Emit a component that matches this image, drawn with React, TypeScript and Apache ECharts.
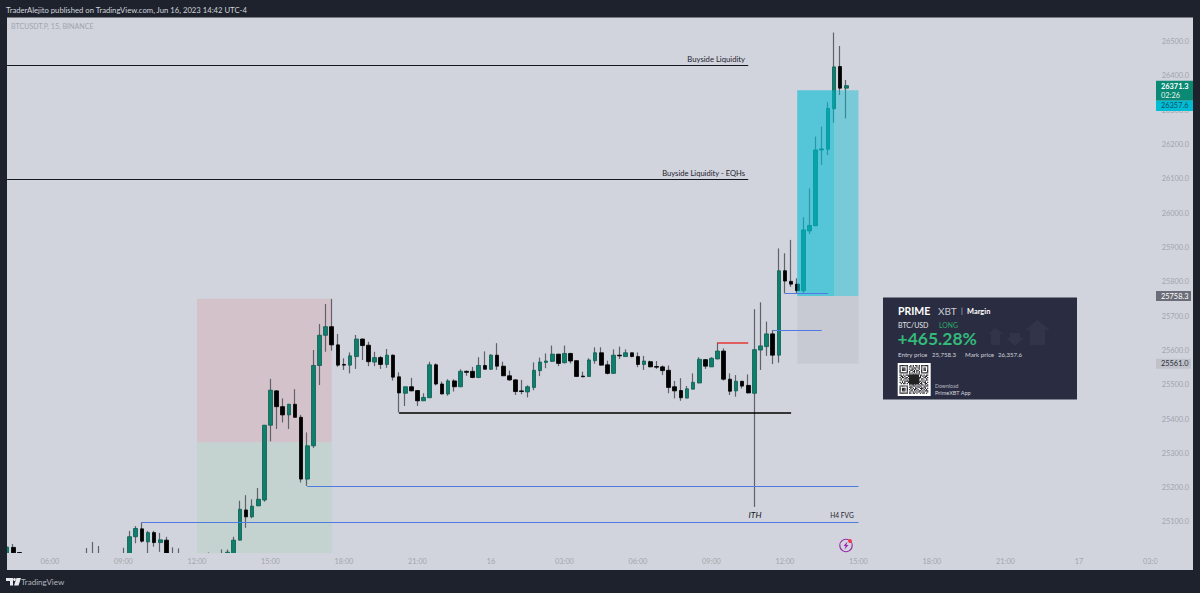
import React, { useEffect, useRef } from "react";
import * as echarts from "echarts";

const opens = [25004,25026,25011,25003,24996,24990,24985,24978,24982,24976,24970,24975,24980,24985,24990,24995,24992,24985,24982,24990,
25005,25057,25080,25042,25069,25040,25047,25005,25003,24998,24992,24988,24990,24994,24998,25000,25007,25008,25047,25135,
25115,25147,25164,25382,25482,25436,25412,25443,25405,25225,25322,25556,25644,25669,25616,25559,25557,25582,25633,25615,
25566,25579,25559,25586,25523,25475,25494,25483,25453,25462,25558,25502,25473,25511,25494,25539,25539,25521,25556,25545,
25586,25554,25526,25514,25482,25479,25492,25541,25565,25568,25589,25564,25591,25570,25525,25524,25570,25593,25558,25533,
25586,25582,25593,25582,25559,25567,25553,25552,25542,25494,25483,25461,25487,25505,25573,25552,25575,25598,25516,25482,
25510,25498,25475,25601,25611,25648,25586,25832,25801,25793,25774,25948,25963,26184,26186,26304,26427,26364];
const closes = [25027,25010,25009,24996,24990,24985,24978,24982,24976,24970,24975,24980,24985,24990,24995,24992,24985,24982,24990,25002,
25057,25081,25044,25069,25040,25048,25005,25003,24998,24992,24988,24990,24994,24998,25000,25005,25012,25047,25137,25115,
25146,25166,25382,25484,25436,25412,25443,25405,25225,25322,25556,25644,25669,25616,25557,25557,25584,25633,25614,25567,
25579,25559,25586,25522,25476,25494,25482,25453,25463,25558,25502,25473,25511,25494,25539,25536,25521,25556,25545,25586,
25554,25526,25514,25480,25480,25494,25542,25566,25569,25589,25562,25591,25569,25524,25523,25572,25593,25557,25533,25586,
25584,25593,25582,25559,25569,25552,25551,25541,25492,25482,25462,25488,25507,25574,25554,25577,25598,25516,25481,25510,
25496,25476,25602,25613,25648,25586,25832,25802,25793,25774,25951,25964,26184,26187,26305,26426,26364,26371.3];
const lows = [25000,25005,25000,24985,24982,24978,24970,24972,24968,24960,24965,24970,24975,24978,24984,24986,24978,24975,24978,24985,
25000,25038,25040,25005,25028,25013,25000,24995,24990,24985,24982,24984,24986,24990,24992,24998,25000,25000,25047,25083,
25111,25147,25159,25335,25371,25390,25371,25405,25215,25205,25316,25499,25596,25599,25552,25543,25533,25546,25572,25554,
25554,25546,25549,25512,25419,25438,25481,25438,25453,25462,25498,25472,25468,25480,25493,25526,25519,25519,25545,25543,
25543,25525,25511,25470,25472,25463,25484,25525,25548,25566,25554,25562,25562,25523,25522,25523,25561,25556,25530,25533,
25575,25582,25580,25551,25543,25551,25546,25528,25475,25460,25453,25460,25486,25504,25546,25552,25574,25512,25470,25465,
25489,25475,25144,25543,25584,25560,25564,25766,25785,25766,25766,25939,25963,26140,26169,26263,26344,26276];
const highs = [25030,25036,25012,25005,25000,24995,24990,24992,24986,24980,24984,24990,24996,25024,25042,25030,24998,24992,24996,25025,
25074,25088,25099,25074,25074,25068,25057,25026,25023,25002,24998,24996,25000,25011,25006,25020,25020,25057,25162,25178,
25166,25199,25382,25517,25484,25460,25444,25487,25412,25361,25601,25677,25735,25750,25648,25577,25594,25645,25635,25625,
25596,25584,25604,25588,25536,25494,25520,25483,25475,25567,25562,25509,25516,25516,25545,25541,25552,25580,25597,25589,
25621,25567,25541,25516,25514,25498,25565,25579,25591,25614,25590,25614,25593,25570,25538,25577,25609,25609,25570,25603,
25611,25603,25593,25594,25584,25570,25569,25556,25556,25511,25519,25496,25533,25580,25574,25580,25623,25606,25533,25528,
25510,25530,25720,25740,25684,25659,25897,25883,25922,25810,25988,26072,26223,26252,26323,26526,26487,26388];

const BAR_COUNT = 189;
const FIRST_QUARTER = 17; // 04:15, first bar of Jun 15
const categories: string[] = [];
for (let i = 0; i < BAR_COUNT; i++) {
  const q = FIRST_QUARTER + i;
  const day = 15 + Math.floor(q / 96);
  const h = Math.floor((q % 96) / 4);
  const m = (q % 4) * 15;
  categories.push(`${day} ${String(h).padStart(2, "0")}:${String(m).padStart(2, "0")}`);
}

const priceTicks = [25100,25200,25300,25400,25500,25600,25700,25800,25900,26000,26100,26200,26300,26400,26500];
const Y_MIN = 25009.6;
const Y_MAX = 26569.9;

// price levels and zones, [fromBar, toBar, price]
const blackLevels = [[0, 121, 26430], [0, 121, 26098]];
const supportLevel = [64, 128, 25419];
const redLevel = [116, 121, 25623];
const blueLevels = [[22, 139, 25098], [49, 139, 25205], [125, 133, 25659], [127, 134, 25766]];
const shortZone = [31, 53, 25750.5, 25332];
const longZone = [31, 53, 25332, Y_MIN];
const targetStrong = [129, 135, 26357.6, 25758.3];
const targetLight = [135, 139, 26357.6, 25758.3];
const stopZone = [129, 139, 25758.3, 25561];

const qrRows = [
  "111111100101011010111111",
  "100000101101001010100001",
  "101110100010110110101101",
  "101110101011010010101101",
  "101110100110101100101101",
  "100000101001101010100001",
  "111111101010101010111111",
  "000000001101010110000000",
  "110101110011111001101011",
  "011010011110000101010110",
  "101101101100000111001101",
  "010011011100000110110010",
  "110100100100000100101011",
  "001011111100000111010100",
  "101010010111111010101101",
  "010110101001010101100110",
  "000000001011010010110101",
  "111111100101101101001011",
  "100000101110010110101100",
  "101110100101011001110101",
  "101110101010110100101010",
  "101110100110101011010111",
  "100000101001010110101001",
  "111111101101101001011010",
];

const FONT = "Lato, 'Open Sans', sans-serif";
const GRID_LEFT = 4.04;
const BAR_W = 6.125;
const GRID_TOP = 17.5;
const GRID_BOTTOM = 553;
const BG = "#d1d4dc";
const FRAME = "#1e222d";
const AXIS_TEXT = "#a2a5ae";

const yOf = (p: number) => GRID_TOP + ((Y_MAX - p) / (Y_MAX - Y_MIN)) * (GRID_BOTTOM - GRID_TOP);

const txt = (x: number, y: number, text: string, fontSize: number, fill: string, extra: any = {}) => ({
  type: "text",
  x,
  y,
  z: 60,
  style: { text, fontSize, fill, fontFamily: FONT, textVerticalAlign: "middle", ...extra },
});
const box = (x: number, y: number, width: number, height: number, fill: string, z = 50) => ({
  type: "rect",
  z,
  shape: { x, y, width, height },
  style: { fill },
});
const poly = (points: number[][], fill: string, z = 55) => ({
  type: "polygon",
  z,
  shape: { points },
  style: { fill },
});

const zone = (z: number[], color: string) => [
  { xAxis: z[0], yAxis: z[2], itemStyle: { color, opacity: 1 } },
  { xAxis: z[1], yAxis: z[3] },
];
const level = (l: number[], color: string, width: number) => [
  { xAxis: l[0], yAxis: l[2], lineStyle: { color, width, type: "solid", opacity: 1 } },
  { xAxis: l[1], yAxis: l[2] },
];

function qrModules() {
  const out: any[] = [box(897.7, 363, 33, 33, "#ffffff", 55)];
  const m = 1.2;
  qrRows.forEach((row, r) => {
    [...row].forEach((c, k) => {
      if (c === "1") out.push(box(899.5 + k * m, 365 + r * m, m, m, "#1c1c22", 56));
    });
  });
  out.push(box(909, 374.5, 10, 10, "#222", 57));
  return out;
}

export default function App() {
  const ref = useRef<HTMLDivElement>(null);
  useEffect(() => {
    document.body.style.margin = "0";
    const chart = echarts.init(ref.current!, undefined, { renderer: "svg" });
    chart.setOption({
      animation: false,
      backgroundColor: FRAME,
      grid: {
        left: GRID_LEFT,
        top: GRID_TOP,
        width: BAR_W * BAR_COUNT,
        height: GRID_BOTTOM - GRID_TOP,
        containLabel: false,
      },
      tooltip: { show: false },
      xAxis: {
        type: "category",
        data: categories,
        boundaryGap: true,
        z: 10,
        axisLine: { show: false },
        axisTick: { show: false },
        splitLine: { show: false },
        axisLabel: {
          interval: (i: number) => i % 12 === 7,
          formatter: (v: string) => {
            const [d, t] = v.split(" ");
            return t === "00:00" ? d : t;
          },
          color: AXIS_TEXT,
          fontFamily: FONT,
          fontSize: 7.3,
          margin: 5,
          hideOverlap: false,
        },
      },
      yAxis: {
        type: "value",
        position: "right",
        min: Y_MIN,
        max: Y_MAX,
        axisLine: { show: false },
        axisTick: { show: false },
        splitLine: { show: false },
        axisLabel: {
          customValues: priceTicks,
          formatter: (v: number) => v.toFixed(1),
          color: AXIS_TEXT,
          fontFamily: FONT,
          fontSize: 7.4,
          margin: 0,
          showMinLabel: true,
          showMaxLabel: true,
        },
      },
      graphic: { elements: buildGraphics() },
      series: [
        {
          type: "line",
          data: [],
          silent: true,
          markArea: {
            silent: true,
            z: 1,
            data: [zone(shortZone, "#d4c2cb"), zone(longZone, "#c4d2d0"), zone(stopZone, "#c8cad3")],
          },
        },
        {
          // wicks
          type: "candlestick",
          data: opens.map((o, i) => [o, closes[i], lows[i], highs[i]]),
          barWidth: 1,
          silent: true,
          z: 2,
          itemStyle: {
            color: "#5f6268",
            color0: "#5f6268",
            borderColor: "#5f6268",
            borderColor0: "#5f6268",
            borderWidth: 1.2,
          },
        },
        {
          // bodies
          type: "candlestick",
          data: opens.map((o, i) => [o, closes[i], Math.min(o, closes[i]), Math.max(o, closes[i])]),
          barWidth: 4.2,
          silent: true,
          z: 3,
          itemStyle: {
            color: "#0e7f6c",
            color0: "#000000",
            borderColor: "#0d5d52",
            borderColor0: "#000000",
            borderWidth: 0.8,
          },
          markArea: {
            silent: true,
            z: 6,
            data: [zone(targetStrong, "rgba(0,188,212,0.6)"), zone(targetLight, "rgba(0,188,212,0.42)")],
          },
          markLine: {
            silent: true,
            z: 7,
            symbol: "none",
            label: { show: false },
            data: [
              ...blackLevels.map((l) => level(l, "#131722", 1)),
              level(supportLevel, "#000000", 1.6),
              level(redLevel, "#e53935", 1.5),
              ...blueLevels.map((l) => level(l, "#4f7be0", 1)),
            ],
          },
        },
      ],
    });
    return () => chart.dispose();
  }, []);
  return (
    <div style={{ position: "fixed", left: 0, top: 0, width: 1200, height: 593 }}>
      <div ref={ref} style={{ width: 1200, height: 593 }} />
    </div>
  );
}

function buildGraphics() {
  const tag = (p: number, label: string, fill: string, color: string) => [
    box(1156, yOf(p) - 5, 35, 10, fill),
    txt(1161, yOf(p), label, 7.4, color),
  ];
  return [
    { ...box(7, GRID_TOP, 1186, 552.5, BG, -1) },
    box(0, GRID_TOP, 7, 552.5, FRAME, 40),
    box(7, GRID_BOTTOM, 1150, 17, BG, 5),
    box(1157.5, GRID_BOTTOM + 0.5, 35.5, 16, BG, 40),

    txt(6, 9.5, "TraderAlejito published on TradingView.com, Jun 16, 2023 14:42 UTC-4", 7.7, "#d1d4dc"),
    txt(11, 26, "BTCUSDT.P, 15, BINANCE", 7.1, "#a2a5ae"),

    txt(745, 59, "Buyside Liquidity", 7.7, "#1f2330", { textAlign: "right" }),
    txt(745, 172.5, "Buyside Liquidity - EQHs", 7.6, "#1f2330", { textAlign: "right" }),
    txt(755, 515, "ITH", 8.5, "#131722", { textAlign: "center", fontStyle: "italic" }),
    txt(842, 515, "H4 FVG", 6.6, "#1f2330", { textAlign: "center" }),

    // price tags
    box(1156, 80.7, 37, 20, "#0a8a74"),
    txt(1161, 86.5, "26371.3", 7.4, "#ffffff", { fontWeight: "bold" }),
    txt(1161, 95, "02:26", 7.4, "#e6f4f1"),
    box(1156, 100.7, 37, 10.3, "#00bcd4"),
    txt(1161, 105.8, "26357.6", 7.4, "#0d4f66"),
    ...tag(25758.3, "25758.3", "#6b6e78", "#ffffff"),
    ...tag(25561, "25561.0", "#bfc2ca", "#2a2d35"),

    // lightning watermark
    {
      type: "circle",
      z: 55,
      shape: { cx: 846, cy: 545.5, r: 6.2 },
      style: { fill: "transparent", stroke: "#9c27b0", lineWidth: 1.1 },
    },
    poly([[847.5, 541.5], [843.5, 546], [845.6, 546], [844.5, 549.5], [848.5, 545], [846.4, 545]], "#9c27b0"),
    { type: "circle", z: 56, shape: { cx: 850, cy: 541, r: 1.9 }, style: { fill: "#f23645" } },

    // promo card
    box(883, 297.5, 194, 102, "#2a2d41", 50),
    poly([[988, 334], [995.5, 328], [1003, 334], [1000, 334], [1000, 345], [991, 345], [991, 334]], "#32354a", 51),
    poly([[1010, 333], [1020, 333], [1020, 338], [1024, 338], [1015, 346], [1006, 338], [1010, 338]], "#32354a", 51),
    poly([[1025, 330], [1037.5, 320], [1050, 330], [1045, 330], [1045, 345], [1030, 345], [1030, 330]], "#32354a", 51),
    txt(898, 311, "PRIME", 10.5, "#ffffff", { fontWeight: "bold" }),
    txt(938, 311, "XBT", 10, "#c9cbd4"),
    txt(961, 311, "|", 7, "#c9cbd4"),
    txt(967, 311, "Margin", 7.4, "#ffffff", { fontWeight: "bold" }),
    txt(898, 324.5, "BTC/USD", 7, "#e4e5ea"),
    txt(939, 324.5, "LONG", 6.8, "#2aa86a"),
    txt(897.5, 338, "+465.28%", 17.5, "#33b97a", { fontWeight: "bold" }),
    txt(898, 354, "Entry price", 6.2, "#d0d2da"),
    txt(932, 354, "25,758.3", 6.1, "#d0d2da"),
    txt(965, 354, "Mark price", 6.2, "#d0d2da"),
    txt(998, 354, "26,357.6", 6.1, "#d0d2da"),
    txt(935, 386, "Download", 5.2, "#b8bac4"),
    txt(935, 392.5, "PrimeXBT App", 5.6, "#d0d2da"),
    ...qrModules(),

    // footer logo
    poly([[6, 578], [13, 578], [13, 585.5], [10, 585.5], [10, 581], [6, 581]], "#e8eaf0"),
    { type: "circle", z: 55, shape: { cx: 14.5, cy: 579.5, r: 1.4 }, style: { fill: "#e8eaf0" } },
    poly([[16.5, 578], [21, 578], [18.5, 585.5], [14, 585.5]], "#e8eaf0"),
    txt(21, 582, "TradingView", 8, "#b2b5be"),
  ];
}
